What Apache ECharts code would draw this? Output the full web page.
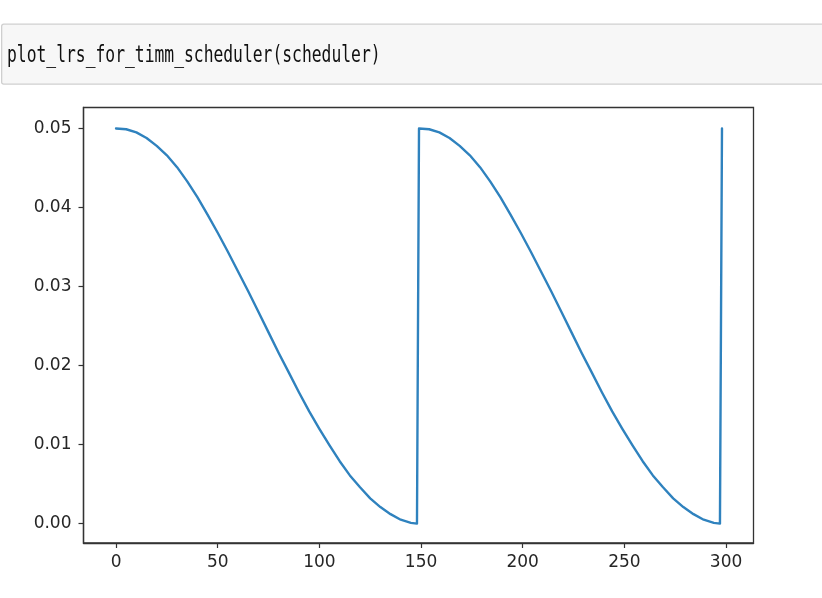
<!DOCTYPE html>
<html>
<head>
<meta charset="utf-8">
<script src="https://cdn.jsdelivr.net/npm/echarts@6/dist/echarts.min.js"></script>
<style>
html,body{margin:0;padding:0;background:#fff;}
#chart{width:822px;height:598px;}
</style>
</head>
<body>
<div id="chart"></div>
<script>
// Values
const codeText = "plot_lrs_for_timm_scheduler(scheduler)";
const epochs = [
  0,5,10,15,20,25,30,35,40,45,50,55,60,65,70,75,80,85,90,95,100,105,110,115,120,125,130,135,140,145,148,
  149,154,159,164,169,174,179,184,189,194,199,204,209,214,219,224,229,234,239,244,249,254,259,264,269,274,279,284,289,294,297,
  298
];
const lrs = [
  0.0500,0.0499,0.0495,0.0488,0.0478,0.0466,0.0451,0.0433,0.0413,0.0391,0.0368,0.0344,0.0319,0.0294,0.0268,0.0242,0.0216,0.0191,0.0166,0.0142,0.0120,0.0099,0.0079,0.0061,0.0046,0.0032,0.0021,0.0012,0.0005,0.0001,0.0000,
  0.0500,0.0499,0.0495,0.0488,0.0478,0.0466,0.0451,0.0433,0.0413,0.0391,0.0368,0.0344,0.0319,0.0294,0.0268,0.0242,0.0216,0.0191,0.0166,0.0142,0.0120,0.0099,0.0079,0.0061,0.0046,0.0032,0.0021,0.0012,0.0005,0.0001,0.0000,
  0.0500
];
const xTicks = [0,50,100,150,200,250,300];
const yTicks = [0,0.01,0.02,0.03,0.04,0.05];

const chart = echarts.init(document.getElementById('chart'), null, {renderer:'canvas'});
const pts = epochs.map((e,i)=>[e, lrs[i]]);
const axisCol = '#333333';
const labelCol = '#262626';
chart.setOption({
  animation:false,
  backgroundColor:'#ffffff',
  graphic:[
    {type:'rect', left:1, top:23.5, shape:{width:840, height:60, r:2},
     style:{fill:'#f7f7f7', stroke:'#cfcfcf', lineWidth:1.3}, z:0},
    {type:'text', x:7, y:56.4, scaleX:0.71, style:{text:codeText, fontSize:23, fontFamily:'DejaVu Sans Mono', fill:'#111111', verticalAlign:'middle', align:'left'}, z:1}
  ],
  grid:{left:83.5, right:68.5, top:107.5, bottom:55, show:true, borderColor:axisCol, borderWidth:1.3, backgroundColor:'transparent'},
  xAxis:{
    type:'value', min:-16, max:313.5,
    splitLine:{show:false},
    axisLine:{show:true, onZero:false, lineStyle:{color:axisCol, width:1.3}},
    axisTick:{show:true, length:5, lineStyle:{color:axisCol, width:1.2}, customValues:xTicks},
    axisLabel:{customValues:xTicks, color:labelCol, fontSize:17, fontFamily:'DejaVu Sans', margin:11,
      formatter:v=>String(v)}
  },
  yAxis:{
    type:'value', min:-0.00245, max:0.05265,
    splitLine:{show:false},
    axisLine:{show:true, onZero:false, lineStyle:{color:axisCol, width:1.3}},
    axisTick:{show:true, length:5, lineStyle:{color:axisCol, width:1.2}, customValues:yTicks},
    axisLabel:{customValues:yTicks, color:labelCol, fontSize:17, fontFamily:'DejaVu Sans', margin:12,
      formatter:v=>v.toFixed(2)}
  },
  series:[{
    type:'line', data:pts, showSymbol:false, smooth:false,
    lineStyle:{color:'#2f82be', width:2.4, join:'round', cap:'round'}, clip:true
  }]
});
</script>
</body>
</html>
